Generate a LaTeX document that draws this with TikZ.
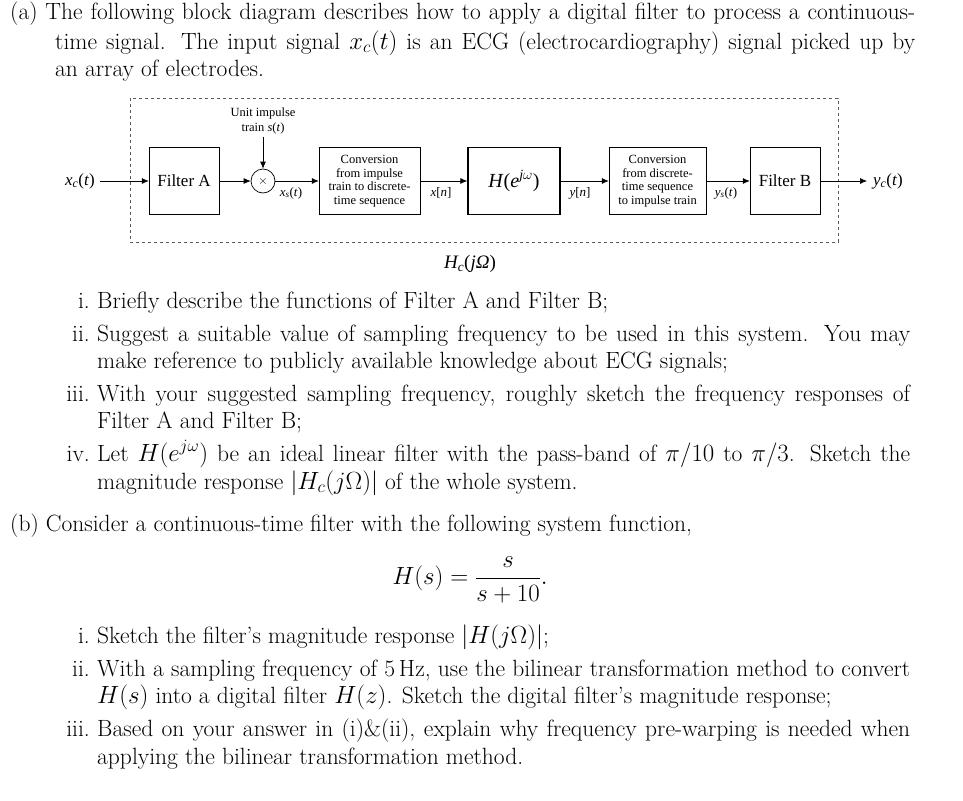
\documentclass[tikz,border=0pt]{standalone}
\usepackage{amsmath}
\usepackage{fontspec}
\newfontfamily\tms{Liberation Serif}
\usetikzlibrary{arrows.meta}
\newcommand{\jl}[4]{\node[anchor=base west,inner sep=0] at (#1,#2+7) {\makebox[#3pt][s]{#4}};}
\newcommand{\nl}[3]{\node[anchor=base west,inner sep=0] at (#1,#2+7) {#3};}
\newcommand{\rn}[2]{\node[anchor=base east,inner sep=0] at (90,#1+7) {#2};}
\begin{document}
\begin{tikzpicture}[x=1pt,y=-1pt,font=\fontsize{23.5}{26}\selectfont,
  blk/.style={draw,minimum height=67pt,inner sep=0,font=\tms\fontsize{12.5}{13.5}\selectfont,align=center},
  big/.style={font=\tms\fontsize{17}{18}\selectfont},
  lab/.style={font=\tms\fontsize{13}{14}\selectfont,inner sep=1},
  arr/.style={-{Latex[length=7pt,width=6pt]},line width=0.7pt}]
\useasboundingbox (0,0) rectangle (963,800);
% text part (a)
\jl{10}{13}{905}{(a) The following block diagram describes how to apply a digital filter to process a continuous-}
\jl{55}{42}{860}{time signal. The input signal $x_c(t)$ is an ECG (electrocardiography) signal picked up by}
\nl{55}{69}{an array of electrodes.}
% diagram
\draw[dashed,gray!70!black,line width=0.7pt] (130,98) rectangle (838,242);
\node[blk,big,minimum width=70pt] (fa) at (184,181) {Filter A};
\node[draw,circle,minimum size=24pt,inner sep=0,line width=0.7pt] (mul) at (263,181) {\fontsize{13}{13}\selectfont$\times$};
\node[blk,minimum width=101pt] (c1) at (369.5,181) {Conversion\\from impulse\\train to discrete-\\time sequence};
\node[blk,minimum width=92pt,line width=1.3pt,font=\tms\fontsize{20}{20}\selectfont] (h) at (514,181) {\textit{H}(\textit{e}\textsuperscript{\textit{j}$\omega$})};
\node[blk,minimum width=97pt] (c2) at (657.5,181) {Conversion\\from discrete-\\time sequence\\to impulse train};
\node[blk,big,minimum width=70pt] (fb) at (785,181) {Filter B};
\node[font=\tms\fontsize{17}{18}\selectfont,inner sep=1] (xc) at (80,181) {\textit{x\textsubscript{c}}(\textit{t})};
\node[font=\tms\fontsize{17}{18}\selectfont,inner sep=1] (yc) at (888,181) {\textit{y\textsubscript{c}}(\textit{t})};
\node[font=\tms\fontsize{12.5}{14.5}\selectfont,align=center] (st) at (263,121) {Unit impulse\\train \textit{s}(\textit{t})};
\coordinate (xcs) at (100,181);
\coordinate (yce) at (867,181);
\draw[arr] (xcs) -- (fa);
\draw[arr] (fa) -- (mul);
\draw[arr] (st) -- (mul);
\draw[arr] (mul) -- (c1);
\draw[arr] (c1) -- (h);
\draw[arr] (h) -- (c2);
\draw[arr] (c2) -- (fb);
\draw[arr] (fb) -- (yce);
\node[lab] at (291,193) {\textit{x\textsubscript{s}}(\textit{t})};
\node[lab] at (441,193) {\textit{x}[\textit{n}]};
\node[lab] at (580,193) {\textit{y}[\textit{n}]};
\node[lab] at (726,193) {\textit{y\textsubscript{s}}(\textit{t})};
\node[font=\tms\fontsize{19}{20}\selectfont] at (470,264) {\textit{H\textsubscript{c}}(\textit{jΩ})};
% questions
\rn{301}{i.}\nl{97}{301}{Briefly describe the functions of Filter A and Filter B;}
\rn{334}{ii.}\jl{97}{334}{813}{Suggest a suitable value of sampling frequency to be used in this system. You may}
\nl{97}{361}{make reference to publicly available knowledge about ECG signals;}
\rn{394}{iii.}\jl{97}{394}{813}{With your suggested sampling frequency, roughly sketch the frequency responses of}
\nl{97}{421}{Filter A and Filter B;}
\rn{454}{iv.}\jl{97}{454}{813}{Let $H(e^{j\omega})$ be an ideal linear filter with the pass-band of $\pi/10$ to $\pi/3$. Sketch the}
\nl{97}{482}{magnitude response $|H_c(j\Omega)|$ of the whole system.}
\nl{10}{524}{(b) Consider a continuous-time filter with the following system function,}
\node at (470,580) {$\displaystyle H(s)=\frac{s}{s+10}.$};
\rn{636}{i.}\nl{97}{636}{Sketch the filter's magnitude response $|H(j\Omega)|$;}
\rn{669}{ii.}\jl{97}{669}{813}{With a sampling frequency of 5\,Hz, use the bilinear transformation method to convert}
\nl{97}{696}{$H(s)$ into a digital filter $H(z)$. Sketch the digital filter's magnitude response;}
\rn{729}{iii.}\jl{97}{729}{813}{Based on your answer in (i)\&(ii), explain why frequency pre-warping is needed when}
\nl{97}{757}{applying the bilinear transformation method.}
\end{tikzpicture}
\end{document}
